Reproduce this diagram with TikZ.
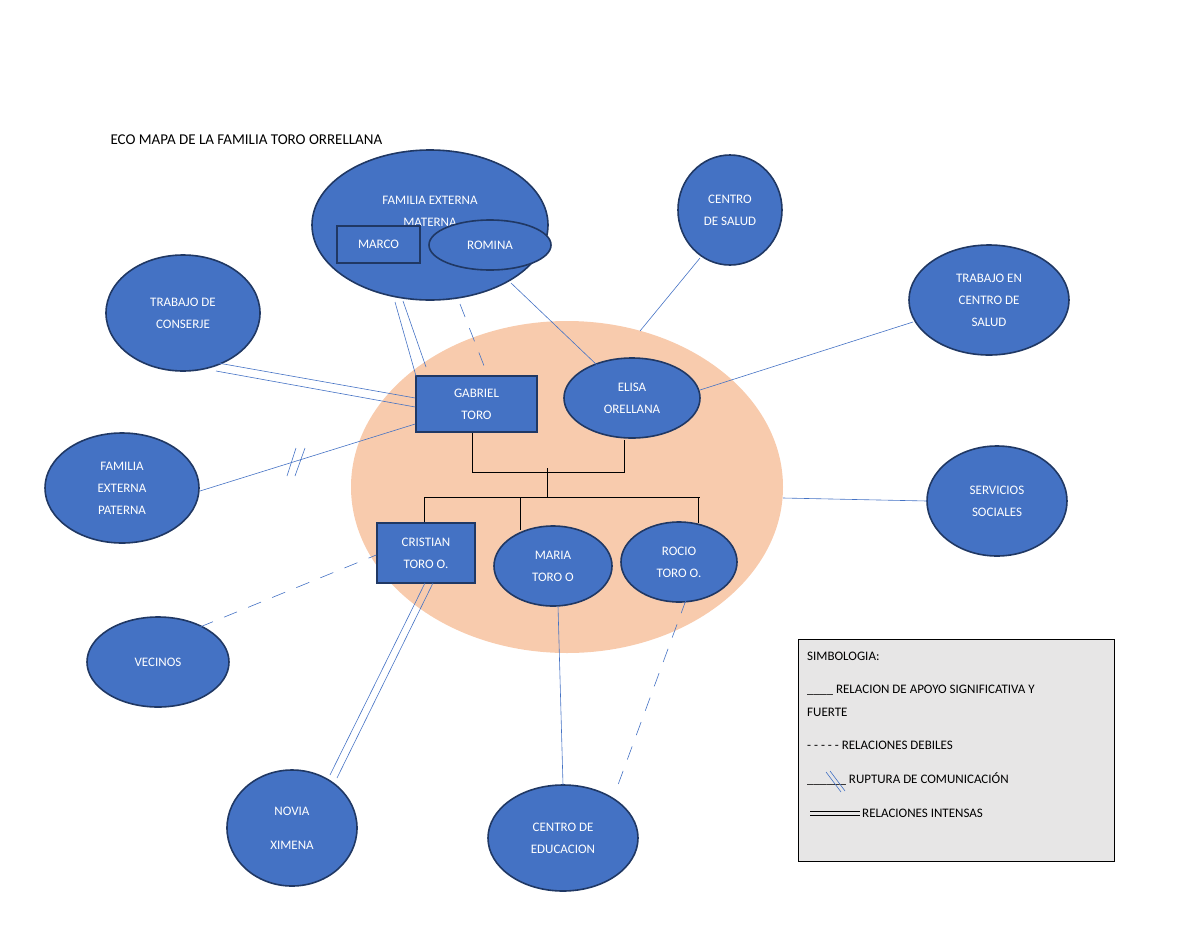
\documentclass[tikz,border=0pt]{standalone}
\usepackage{fontspec}
\setmainfont{Carlito}
\usetikzlibrary{shapes.geometric}
\definecolor{nblue}{HTML}{4472C4}
\definecolor{nborder}{HTML}{203864}
\definecolor{peach}{HTML}{F8CBAD}
\definecolor{lgray}{HTML}{E7E6E6}
\begin{document}
\begin{tikzpicture}[x=1pt,y=-1pt,
  ell/.style={ellipse,draw=nborder,line width=1.6pt,fill=nblue,text=white,inner sep=0,align=center,font=\fontsize{13}{22}\selectfont},
  box/.style={rectangle,draw=nborder,line width=1.6pt,fill=nblue,text=white,inner sep=0,align=center,font=\fontsize{13}{22}\selectfont},
  rel/.style={draw=nblue,line width=0.6pt},
  weak/.style={rel,dash pattern=on 14pt off 12pt},
  fam/.style={draw=black,line width=0.6pt}]
\useasboundingbox (0,0) rectangle (1200,927);
\node[anchor=west,font=\fontsize{15}{18}\selectfont] (title) at (107,140) {ECO MAPA DE LA FAMILIA TORO ORRELLANA};
\node[ellipse,fill=peach,minimum width=432,minimum height=332,inner sep=0] (home) at (567,487) {};
% external nodes
\node[ell,minimum width=236,minimum height=150] (materna) at (430,225) {};
\node[text=white,font=\fontsize{13}{15}\selectfont] (maternatxt) at (430,200) {FAMILIA EXTERNA};
\node[text=white,font=\fontsize{13}{15}\selectfont] (maternatxt2) at (430,222) {MATERNA};
\node[box,minimum width=83,minimum height=37] (marco) at (378.5,244.5) {MARCO};
\node[ell,minimum width=122,minimum height=50] (romina) at (490,245) {ROMINA};
\node[ell,minimum width=104,minimum height=110] (salud) at (730,210) {CENTRO\\DE SALUD};
\node[ell,minimum width=160,minimum height=110] (tsalud) at (989,300) {TRABAJO EN\\CENTRO DE\\SALUD};
\node[ell,minimum width=154,minimum height=116] (conserje) at (183,313) {TRABAJO DE\\CONSERJE};
\node[ell,minimum width=154,minimum height=110] (paterna) at (122,488) {FAMILIA\\EXTERNA\\PATERNA};
\node[ell,minimum width=140,minimum height=110] (servicios) at (997,501) {SERVICIOS\\SOCIALES};
\node[ell,minimum width=142,minimum height=90] (vecinos) at (158,662) {VECINOS};
\node[ell,minimum width=130,minimum height=116,font=\fontsize{13}{34}\selectfont] (novia) at (292,828) {NOVIA\\XIMENA};
\node[ell,minimum width=150,minimum height=106] (educ) at (563,838) {CENTRO DE\\EDUCACION};
% family
\node[box,minimum width=121,minimum height=56] (gabriel) at (476.5,404) {GABRIEL\\TORO};
\node[ell,minimum width=136,minimum height=80] (elisa) at (632,398) {ELISA\\ORELLANA};
\node[box,minimum width=98,minimum height=60] (cristian) at (426,553) {CRISTIAN\\TORO O.};
\node[ell,minimum width=118,minimum height=80] (maria) at (553,566) {MARIA\\TORO O};
\node[ell,minimum width=116,minimum height=80] (rocio) at (679,562) {ROCIO\\TORO O.};
% family lines
\coordinate (gb) at (472,432); \coordinate (eb) at (624,440);
\coordinate (gm) at (472,472); \coordinate (em) at (624,472);
\coordinate (pm) at (547,468); \coordinate (pc) at (547,497);
\coordinate (cl) at (424,497); \coordinate (cr) at (700,497); \coordinate (cm) at (520,497);
\draw[fam] (gabriel.south -| gb) -- (gm) -- (em) -- (eb);
\draw[fam] (pm) -- (pc);
\draw[fam] (cl) -- (cr);
\draw[fam] (cl) -- (cristian.north -| cl);
\draw[fam] (cm) -- (520,530);
\draw[fam] (698,497) -- (698,523);
% relations
\draw[rel] (395,302) -- (416,376);
\draw[rel] (403,301) -- (426,367);
\draw[weak] (460,304) -- (488,376);
\draw[rel] (511,283) -- (598,366);
\draw[rel] (700,258) -- (640,331);
\draw[rel] (913,322) -- (700,390);
\draw[rel] (218,363) -- (gabriel.west |- 0,398);
\draw[rel] (216,371) -- (gabriel.west |- 0,407);
\draw[rel] (200,491) -- (gabriel.west |- 0,424);
\draw[rel] (287,476) -- (296,448);
\draw[rel] (295,476) -- (305,448);
\draw[rel] (783,498) -- (927,501);
\draw[weak] (200,627) -- (cristian.west |- 0,555);
\draw[rel] (330,775) -- (425,583);
\draw[rel] (337,778) -- (433,583);
\draw[rel] (558,606) -- (563,785);
\draw[weak] (686,600) -- (615,793);
% legend
\node[draw=black,fill=lgray,line width=0.8pt,minimum width=316,minimum height=222,inner sep=0] (legend) at (956,750) {};
\begin{scope}[every node/.style={anchor=west,font=\fontsize{13}{15}\selectfont,inner sep=0}]
\node (l1) at (807,656) {SIMBOLOGIA:};
\node (l2) at (807,690) {\_\_\_\_ RELACION DE APOYO SIGNIFICATIVA Y};
\node (l3) at (807,712) {FUERTE};
\node (l4) at (807,745) {- - - - - RELACIONES DEBILES};
\node (l5) at (807,779) {\_\_\_\_\_\_ RUPTURA DE COMUNICACIÓN};
\node (l6) at (862,813) {RELACIONES INTENSAS};
\end{scope}
\draw[rel] (826,772) -- (841,792);
\draw[rel] (830,771) -- (845,791);
\draw[line width=0.6pt] (810,811) -- (860,811);
\draw[line width=0.6pt] (810,815) -- (860,815);
\end{tikzpicture}
\end{document}
